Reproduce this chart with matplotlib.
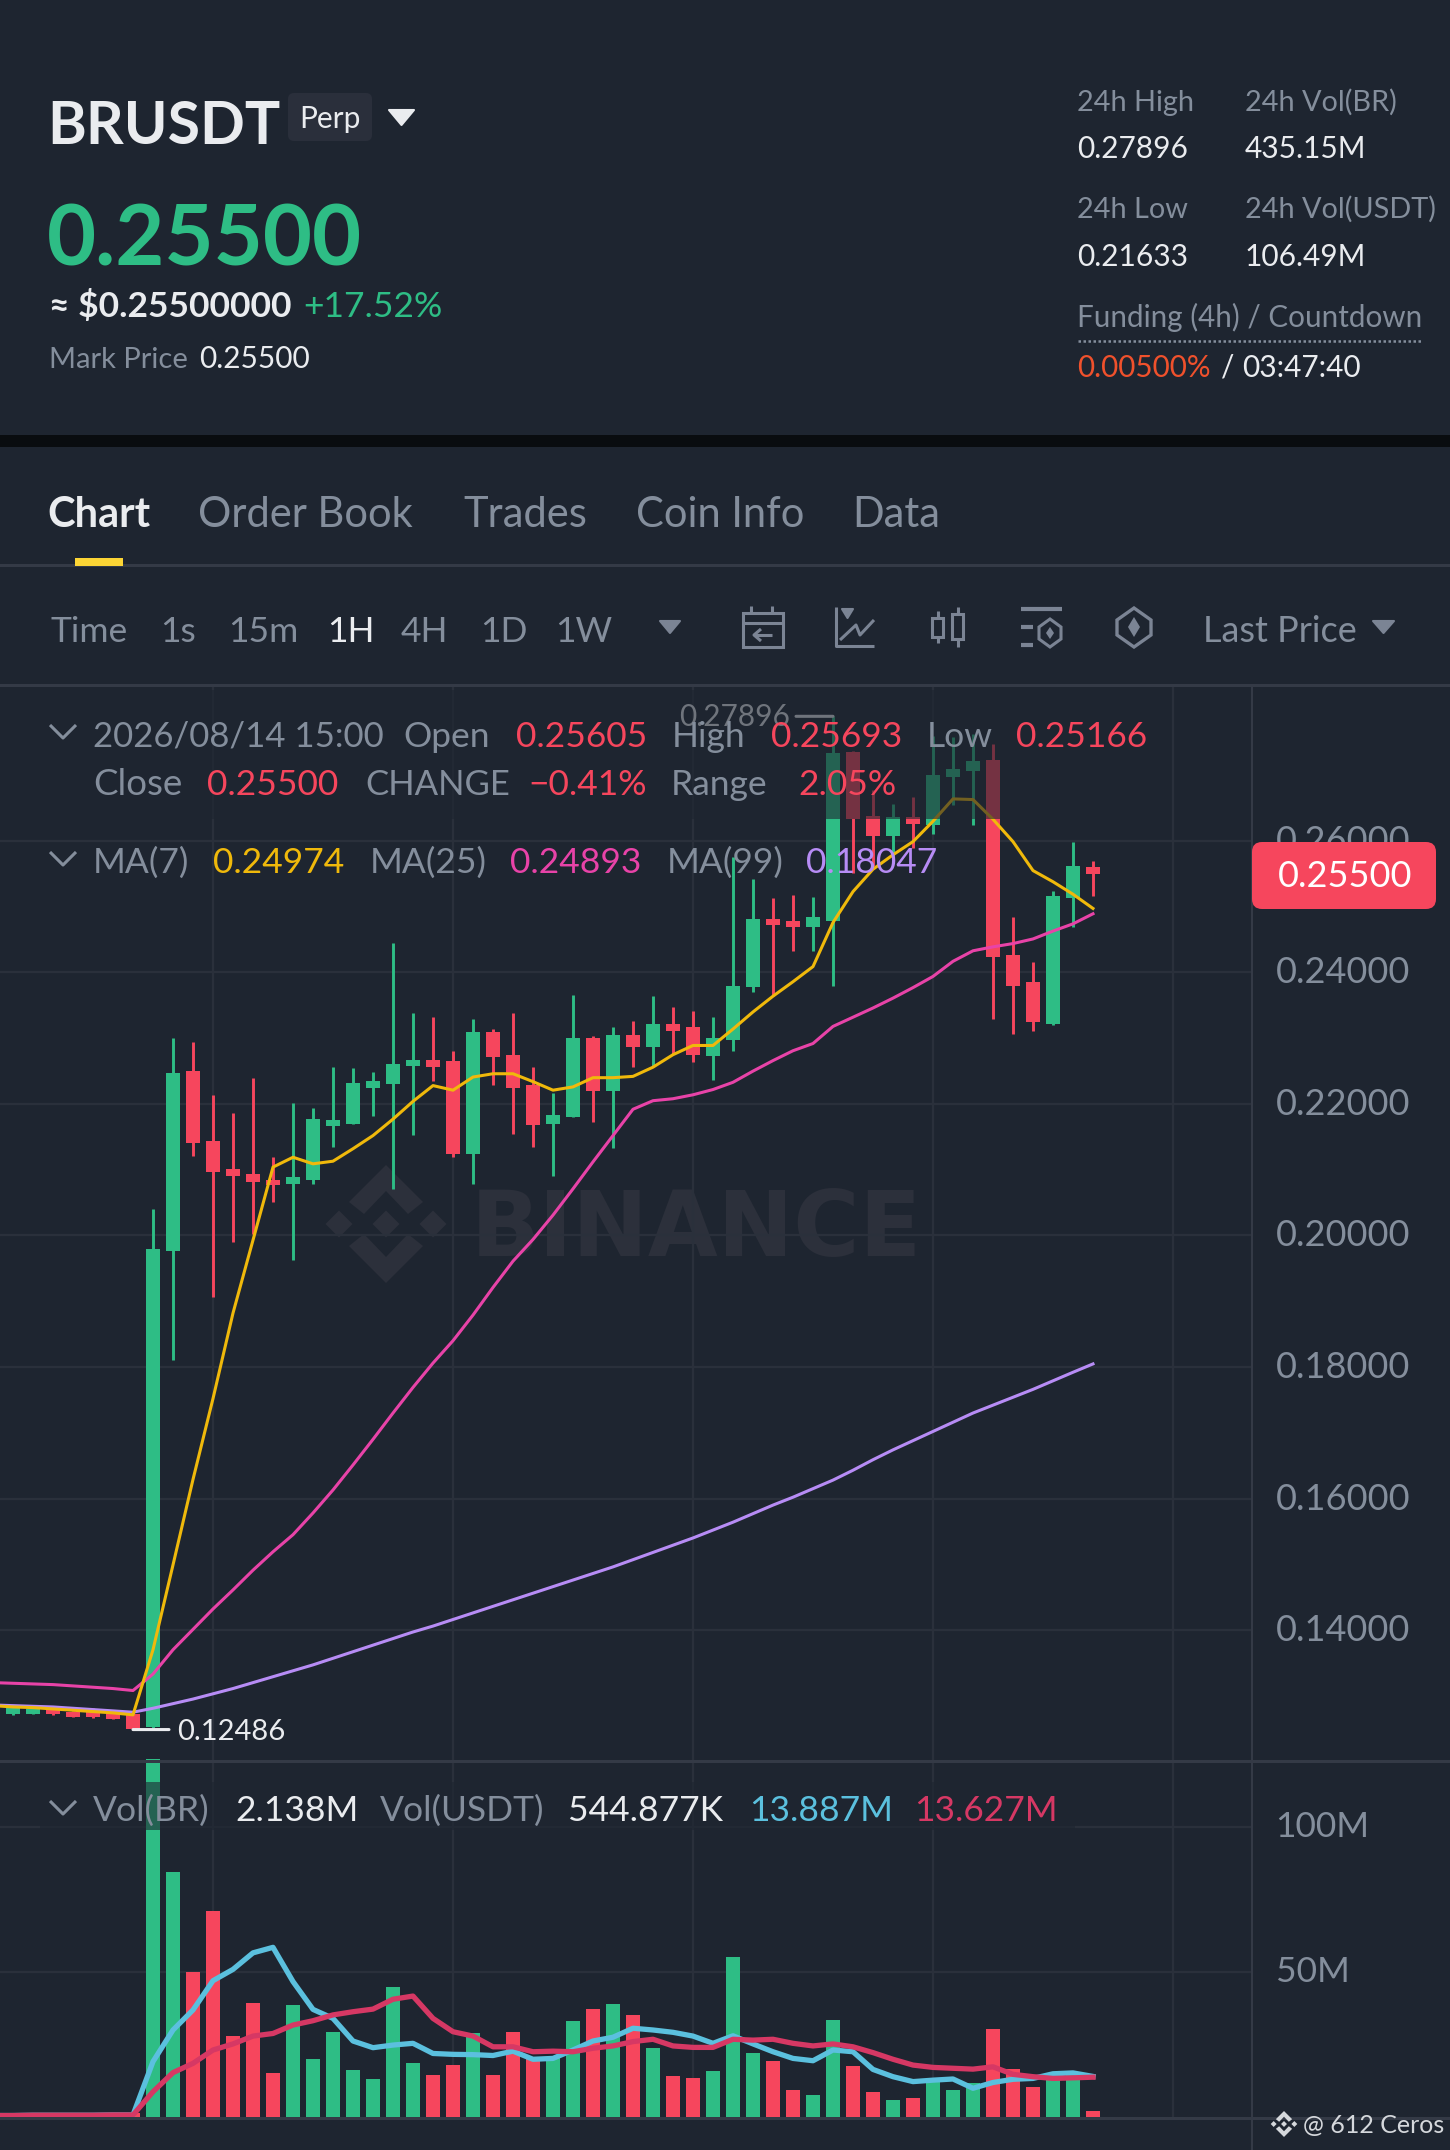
import numpy as np
import matplotlib
matplotlib.use("Agg")
import matplotlib.pyplot as plt
from matplotlib.patches import FancyBboxPatch, Polygon, Rectangle
from matplotlib.transforms import ScaledTranslation

plt.rcParams['font.family'] = ['Lato', 'DejaVu Sans']

W, H = 1450, 2150
BG = '#1E2530'
GRID = '#2A303B'
SEP = '#343A46'
GREY = '#848E9C'
WHITE = '#EAECEF'
RED = '#F6465D'
GREEN = '#2EBD85'
YELLOW = '#F0B90B'
PINK = '#E843A8'
PURPLE = '#B78CF5'
BLUE = '#5BC0DE'
CRIMSON = '#D63864'
ICON = '#7B8494'
MARK = '#2C303B'

# candles, one per hour
opens = [.1272, .1273, .1278, .1276, .1278, .1276, .1272, .1252, .1976, .2250,
         .2144, .2101, .2094, .2085, .2079, .2085, .2167, .2170, .2225, .2230,
         .2258, .2267, .2266, .2124, .2310, .2275, .2229, .2170, .2180, .2300,
         .2220, .2305, .2287, .2322, .2317, .2273, .2297, .2378, .2481, .2478,
         .2469, .2479, .2735, .2638, .2607, .2637, .2625, .2697, .2706, .2723,
         .2427, .2385, .2322, .2513, .25605]
closes = [.1282, .1280, .1272, .1268, .1267, .1265, .1250, .1980, .2247, .2141,
          .2096, .2090, .2081, .2077, .2089, .2177, .2176, .2232, .2235, .2261,
          .2267, .2257, .2124, .2310, .2271, .2225, .2168, .2184, .2301, .2220,
          .2305, .2286, .2321, .2311, .2275, .2301, .2379, .2481, .2472, .2469,
          .2485, .2734, .2634, .2607, .2637, .2626, .2700, .2710, .2721, .2423,
          .2380, .2324, .2517, .2562, .25500]
highs = [.1283, .1281, .1279, .1277, .1281, .1277, .1273, .2041, .2300, .2295,
         .2214, .2186, .2239, .2119, .2202, .2194, .2256, .2254, .2248, .2445,
         .2339, .2332, .2280, .2329, .2314, .2339, .2257, .2216, .2366, .2304,
         .2317, .2326, .2364, .2348, .2342, .2333, .2575, .2542, .2514, .2518,
         .2515, .27896, .2737, .2677, .2656, .2667, .2760, .2758, .2763, .2748,
         .2485, .2416, .2524, .2599, .25693]
lows = [.1271, .1272, .1271, .1267, .1266, .1264, .12486, .1251, .1810, .2121,
        .1907, .1990, .2003, .2051, .1962, .2079, .2135, .2170, .2181, .2070,
        .2153, .2235, .2119, .2079, .2229, .2155, .2135, .2091, .2180, .2172,
        .2133, .2256, .2258, .2276, .2264, .2236, .2280, .2371, .2364, .2432,
        .2432, .2379, .2552, .2562, .2568, .2590, .2610, .2655, .2625, .2330,
        .2307, .2311, .2320, .2469, .25166]

# moving averages, starting one candle left of the first full candle
ma7 = [.1285, .1283, .1282, .1280, .1278, .1276, .1274, .1271, .1370, .1499,
       .1629, .1752, .1882, .1993, .2104, .2119, .2109, .2113, .2132, .2152,
       .2177, .2204, .2228, .2221, .2241, .2246, .2246, .2234, .2221, .2226,
       .2240, .2240, .2242, .2256, .2275, .2289, .2289, .2314, .2340, .2364,
       .2386, .2409, .2476, .2523, .2557, .2579, .2599, .2630, .2664, .2663,
       .2633, .2599, .2555, .2538, .2519, .24974]
ma25 = [.1320, .1319, .1318, .1317, .1315, .1313, .1311, .1308, .1333, .1370,
        .1401, .1432, .1461, .1491, .1519, .1545, .1578, .1613, .1651, .1690,
        .1730, .1769, .1806, .1840, .1879, .1921, .1961, .1994, .2031, .2071,
        .2112, .2152, .2192, .2205, .2208, .2214, .2222, .2233, .2250, .2266,
        .2281, .2292, .2318, .2332, .2346, .2361, .2377, .2394, .2417, .2433,
        .2439, .2444, .2451, .2463, .2474, .24893]
ma99 = [.1286, .1285, .1284, .1283, .1281, .1279, .1277, .1275,
        .1281, .1288, .1295, .1303, .1311, .1320, .1329, .1338, .1347, .1357,
        .1367, .1377, .1387, .1397, .1406, .1416, .1426, .1436, .1446, .1456,
        .1466, .1476, .1486, .1496, .1507, .1518, .1529, .1540, .1552, .1564,
        .1577, .1590, .1602, .1615, .1628, .1643, .1659, .1674, .1688, .1702,
        .1716, .1730, .1742, .1754, .1766, .1779, .1792, .18047]

# volume in millions
volumes = [0.5, 0.6, 0.9, 0.5, 0.6, 0.7, 1.2, 123.5, 84.3, 49.8,
           70.8, 27.9, 39.2, 14.9, 38.5, 19.9, 29.3, 16.1, 12.9, 44.8,
           18.4, 14.4, 17.7, 28.7, 14.4, 29.1, 20.1, 20.1, 33.1, 37.2,
           38.7, 35.1, 23.8, 14.1, 13.2, 15.7, 54.9, 21.8, 19.1, 9.1,
           7.5, 33.2, 17.5, 8.5, 5.7, 6.4, 12.1, 9.2, 11.7, 30.1,
           16.4, 10.3, 14.4, 14.4, 2.1]
vol_ma_fast = [0.4, 0.4, 0.5, 0.5, 0.5, 0.5, 0.6, 0.6, 19.0, 29.9,
               36.8, 46.9, 50.8, 56.5, 58.4, 46.6, 37.0, 33.9, 26.1, 23.8,
               24.7, 25.3, 21.8, 21.5, 21.4, 21.1, 22.6, 19.8, 20.1, 23.0,
               26.1, 27.4, 30.5, 29.9, 29.1, 27.8, 25.3, 27.9, 25.1, 22.4,
               20.1, 19.3, 23.0, 22.4, 16.3, 13.8, 12.1, 12.6, 13.0, 9.8,
               11.8, 12.9, 13.2, 14.8, 15.1, 13.887]
vol_ma_slow = [0.4, 0.4, 0.5, 0.5, 0.5, 0.5, 0.6, 0.6, 8.6, 15.2,
               18.4, 23.0, 25.1, 27.8, 28.7, 31.6, 33.1, 35.1, 36.2, 37.1,
               40.5, 41.6, 33.9, 29.3, 27.8, 24.1, 24.1, 22.4, 22.6, 22.4,
               23.6, 24.4, 25.9, 26.7, 24.4, 23.9, 23.9, 26.7, 26.4, 26.7,
               25.3, 24.4, 25.1, 24.1, 22.1, 19.8, 17.8, 17.0, 16.7, 16.4,
               17.2, 14.6, 13.8, 13.2, 13.4, 13.627]

price_ticks = [.14, .16, .18, .20, .22, .24, .26]
vol_ticks = [50, 100]
vol_tick_labels = ['50M', '100M']
grid_candles = [10, 22, 34, 46, 58]

stats_labels = ['24h High', '24h Vol(BR)', '24h Low', '24h Vol(USDT)']
stats_values = ['0.27896', '435.15M', '0.21633', '106.49M']
tabs = ['Chart', 'Order Book', 'Trades', 'Coin Info', 'Data']
intervals = ['Time', '1s', '15m', '1H', '4H', '1D', '1W']


def axes_px(fig, x0, y0, x1, y1, **kw):
    return fig.add_axes([x0 / W, 1 - y1 / H, (x1 - x0) / W, (y1 - y0) / H], **kw)


def binance_logo(ax, cx, cy, s, color, zorder=1):
    d = 13.5 * s
    for dx in (-47, 0, 47):
        x = cx + dx * s
        ax.add_patch(Polygon([(x - d, cy), (x, cy - d), (x + d, cy), (x, cy + d)],
                             fc=color, ec='none', zorder=zorder))
    for sign in (-1, 1):
        pts = [(-37, 22), (-22, 10), (0, 33), (22, 10), (37, 22), (0, 59)]
        ax.add_patch(Polygon([(cx + px * s, cy + sign * py * s) for px, py in pts],
                             fc=color, ec='none', zorder=zorder))


def lift_tick_labels(axis, fig):
    # the app draws its price labels a little above the grid line
    shift = ScaledTranslation(0, 2.5 / 100, fig.dpi_scale_trans)
    for t in axis.get_yticklabels():
        t.set_transform(t.get_transform() + shift)


fig = plt.figure(figsize=(W / 100, H / 100), dpi=100, facecolor=BG)

# back layer: watermark
back = axes_px(fig, 0, 0, W, H, zorder=0)
back.set_xlim(0, W)
back.set_ylim(H, 0)
back.axis('off')
binance_logo(back, 386, 1224, 1.0, MARK)
back.text(471, 1256, 'BINANCE', color=MARK, fontsize=65, fontweight='bold', va='baseline', ha='left',
          family=['DejaVu Sans'])

# price pane
k = np.arange(len(opens))
k_ma = np.arange(-1, len(opens))
ax = axes_px(fig, 0, 686, 1252, 1761, zorder=1)
ax.patch.set_alpha(0)
ax.set_xlim(-0.65, 61.95)
ax.set_ylim(.12008, .28357)
for s in ax.spines.values():
    s.set_visible(False)
ax.set_xticks(grid_candles)
ax.set_yticks(price_ticks)
ax.set_yticklabels(['%.5f' % p for p in price_ticks])
ax.yaxis.tick_right()
ax.tick_params(axis='x', length=0, labelbottom=False)
ax.tick_params(axis='y', length=0, pad=17, labelsize=26, labelcolor=GREY)
ax.grid(True, color=GRID, linewidth=1.6)
ax.set_axisbelow(True)
lift_tick_labels(ax, fig)

o, c = np.array(opens), np.array(closes)
colors = [GREEN if up else RED for up in c >= o]
ax.vlines(k, lows, highs, colors=colors, linewidth=2.1, zorder=3)
ax.bar(k, np.abs(c - o), bottom=np.minimum(o, c), width=0.7, color=colors, zorder=3)
ax.plot(k_ma, ma99, color=PURPLE, linewidth=2.2, zorder=4)
ax.plot(k_ma, ma25, color=PINK, linewidth=2.2, zorder=4)
ax.plot(k_ma, ma7, color=YELLOW, linewidth=2.2, zorder=5)

# high / low markers
top = int(np.argmax(highs))
bot = int(np.argmin(lows))
ax.annotate('0.27896', (top, highs[top]), xytext=(-31, -7), textcoords='offset points',
            color=WHITE, fontsize=21.5, ha='right', va='baseline', zorder=6)
ax.annotate('', (top, highs[top]), xytext=(top - 1.85, highs[top]),
            arrowprops=dict(arrowstyle='-', color=WHITE, lw=2.2, shrinkA=0, shrinkB=0), zorder=6)
ax.annotate('0.12486', (bot, lows[bot]), xytext=(32, -7.5), textcoords='offset points',
            color=WHITE, fontsize=21, ha='left', va='baseline', zorder=6)
ax.annotate('', (bot, lows[bot]), xytext=(bot + 1.8, lows[bot]),
            arrowprops=dict(arrowstyle='-', color=WHITE, lw=2.2, shrinkA=0, shrinkB=0), zorder=6)

# volume pane
vx = axes_px(fig, 0, 1761, 1252, 2118, zorder=1)
vx.patch.set_alpha(0)
vx.set_xlim(-0.65, 61.95)
vx.set_ylim(-0.45, 122.66)
for s in vx.spines.values():
    s.set_visible(False)
vx.set_xticks(grid_candles)
vx.set_yticks(vol_ticks)
vx.set_yticklabels(vol_tick_labels)
vx.yaxis.tick_right()
vx.tick_params(axis='x', length=0, labelbottom=False)
vx.tick_params(axis='y', length=0, pad=17, labelsize=25.5, labelcolor=GREY)
vx.grid(True, color=GRID, linewidth=1.6)
vx.set_axisbelow(True)
lift_tick_labels(vx, fig)
vx.bar(k, volumes, width=0.7, color=colors, zorder=3, clip_on=False)
vx.plot(k_ma, vol_ma_fast, color=BLUE, linewidth=3.8, zorder=4)
vx.plot(k_ma, vol_ma_slow, color=CRIMSON, linewidth=3.8, zorder=5)

# front layer: app chrome and legends
ui = axes_px(fig, 0, 0, W, H, zorder=2)
ui.set_xlim(0, W)
ui.set_ylim(H, 0)
ui.axis('off')


def label(x, y, s, color=GREY, size=19, weight='normal', ha='left'):
    ui.text(x, y, s, color=color, fontsize=size, fontweight=weight, ha=ha, va='baseline', zorder=10)


def line(xs, ys, color=ICON, lw=2.2, **kw):
    ui.plot(xs, ys, color=color, linewidth=lw, solid_capstyle='butt', zorder=10, **kw)


def tri(x0, x1, y0, y1, color=ICON):
    ui.add_patch(Polygon([(x0, y0), (x1, y0), ((x0 + x1) / 2, y1)], fc=color, ec=color,
                         lw=1.5, joinstyle='round', zorder=10))


def chevron(y):
    line([50, 63, 76], [y, y + 13, y], color=GREY, lw=2.2)


# dim strips behind the legend text
ui.add_patch(Rectangle((40, 690), 1120, 129, fc=BG, ec='none', alpha=0.6, zorder=8))
ui.add_patch(Rectangle((40, 1782), 1035, 48, fc=BG, ec='none', alpha=0.6, zorder=8))

# header
ui.add_patch(Rectangle((0, 435), W, 12, fc='#090C0F', ec='none', zorder=9))
label(47, 144, 'BRUSDT', WHITE, 42.5, 'bold')
ui.add_patch(FancyBboxPatch((292, 97), 76, 40, boxstyle='round,pad=4,rounding_size=6',
                            fc='#2A2F3B', ec='none', zorder=9))
label(299, 128, 'Perp', WHITE, 21.5)
tri(389, 414, 110, 125, WHITE)
label(47, 265, '0.25500', GREEN, 61, 'bold')
label(49, 317, '≈ $0.25500000', WHITE, 25.5, 'bold')
label(303, 317, '+17.52%', GREEN, 25.5)
label(49, 368, 'Mark Price', GREY, 21)
label(199, 368, '0.25500', WHITE, 21.5)

xs_stats = [1077, 1245, 1077, 1245]
ys_stats = [110.7, 110.7, 218, 218]
for x, y, a, b in zip(xs_stats, ys_stats, stats_labels, stats_values):
    label(x, y, a, GREY, 20.8)
    label(x, y + 47.5, b, WHITE, 21.5)
label(1077, 326.7, 'Funding (4h) / Countdown', GREY, 21.3)
line([1078, 1422], [340.7, 340.7], color=GREY, lw=1.8, linestyle=(0, (1, 1)))
label(1077, 376.7, '0.00500%', '#F0512C', 21.3)
label(1221, 376.7, '/', WHITE, 21.3)
label(1242, 376.7, '03:47:40', WHITE, 21.5)

# tabs
for x, s in zip([47, 198, 463, 636, 852], tabs):
    label(x, 527, s, WHITE if s == 'Chart' else GREY, 30, 'bold' if s == 'Chart' else 'normal')
ui.add_patch(Rectangle((0, 564), W, 3, fc=SEP, ec='none', zorder=9))
ui.add_patch(Rectangle((75, 558), 48, 8, fc='#FCD535', ec='none', zorder=10))
ui.add_patch(Rectangle((0, 684), W, 3, fc=SEP, ec='none', zorder=9))

# interval toolbar
for x, s in zip([51, 160, 228, 327, 401, 480, 555], intervals):
    label(x, 641.7, s, WHITE if s == '1H' else GREY, 25.5)
tri(660, 680, 621, 633)
label(1203, 641.7, 'Last Price', GREY, 26)
tri(1373, 1394, 621, 633)

# calendar icon
ui.add_patch(Rectangle((743, 613), 40, 34, fc='none', ec=ICON, lw=2.2, zorder=10))
line([743, 783], [623, 623])
line([751, 751], [606, 613])
line([772, 772], [606, 613])
line([754, 772], [635, 635])
line([761, 754, 761], [629, 635, 641])
# chart type icon
line([836, 836, 874], [607, 646, 646])
tri(842, 853, 609, 618)
line([840, 856, 860, 874], [640, 625, 635, 620])
# candle icon
for x, y0, y1, w0, w1 in [(938, 611, 643, 618, 637), (958, 607, 647, 614, 639)]:
    line([x, x], [y0, w0])
    line([x, x], [w1, y1])
    ui.add_patch(Rectangle((x - 5.5, w0), 11, w1 - w0, fc='none', ec=ICON, lw=2.2, zorder=10))
# indicator settings icon
line([1021, 1062], [609, 609], lw=3)
line([1021, 1033], [627, 627], lw=3)
line([1021, 1033], [645, 645], lw=3)
ui.add_patch(Polygon([(1050, 619), (1061, 627), (1061, 639), (1050, 647), (1039, 639), (1039, 627)],
                     fc='none', ec=ICON, lw=2.2, zorder=10))
ui.add_patch(Polygon([(1050, 627), (1054, 633), (1050, 639), (1046, 633)], fc=ICON, ec='none', zorder=10))
# hexagon icon
ui.add_patch(Polygon([(1134, 608), (1151, 620), (1151, 635), (1134, 647), (1117, 635), (1117, 620)],
                     fc='none', ec=ICON, lw=2.4, zorder=10))
ui.add_patch(Polygon([(1134, 617), (1140, 627), (1134, 637), (1128, 627)], fc=ICON, ec='none', zorder=10))

# legend rows
chevron(725)
label(93, 746.8, '2026/08/14 15:00', GREY, 25)
label(403, 746.8, 'Open', GREY, 25.5)
label(516, 746.8, '0.25605', RED, 25.5)
label(672, 746.8, 'High', GREY, 25.5)
label(771, 746.8, '0.25693', RED, 25.5)
label(927, 746.8, 'Low', GREY, 25.5)
label(1016, 746.8, '0.25166', RED, 25.5)
label(93, 795, 'Close', GREY, 26.5)
label(207, 795, '0.25500', RED, 25.5)
label(365, 795, 'CHANGE', GREY, 25)
label(528, 795, '−0.41%', RED, 25.5)
label(671, 795, 'Range', GREY, 25.5)
label(798, 795, '2.05%', RED, 25.5)
chevron(852)
label(93, 873, 'MA(7)', GREY, 25.5)
label(213, 873, '0.24974', YELLOW, 25.5)
label(370, 873, 'MA(25)', GREY, 25.5)
label(510, 873, '0.24893', PINK, 25.5)
label(667, 873, 'MA(99)', GREY, 25.5)
label(806, 873, '0.18047', PURPLE, 25.5)

chevron(1801)
label(93, 1820.7, 'Vol(BR)', GREY, 25.5)
label(235, 1820.7, '2.138M', WHITE, 25.5)
label(380, 1820.7, 'Vol(USDT)', GREY, 25.5)
label(568, 1820.7, '544.877K', WHITE, 25.5)
label(749, 1820.7, '13.887M', BLUE, 25.5)
label(914, 1820.7, '13.627M', CRIMSON, 25.5)

# pane separators and axis rule
ui.add_patch(Rectangle((0, 1760), W, 3, fc=SEP, ec='none', zorder=9))
ui.add_patch(Rectangle((0, 2117), W, 3, fc=SEP, ec='none', zorder=9))
ui.add_patch(Rectangle((1251, 686), 2.5, H - 686, fc=SEP, ec='none', zorder=9))

# last price tag
ui.add_patch(FancyBboxPatch((1258, 848), 172, 55, boxstyle='round,pad=6,rounding_size=10',
                            fc=RED, ec='none', zorder=10))
ui.text(1345, 887, '0.25500', color='white', fontsize=26, ha='center', va='baseline', zorder=11)

# credit
binance_logo(ui, 1284, 2124, 0.22, '#D5D8DC', zorder=10)
label(1303, 2132.7, '@ 612 Ceros', '#D5D8DC', 18)

fig.savefig('out.png', dpi=100, facecolor=BG)
